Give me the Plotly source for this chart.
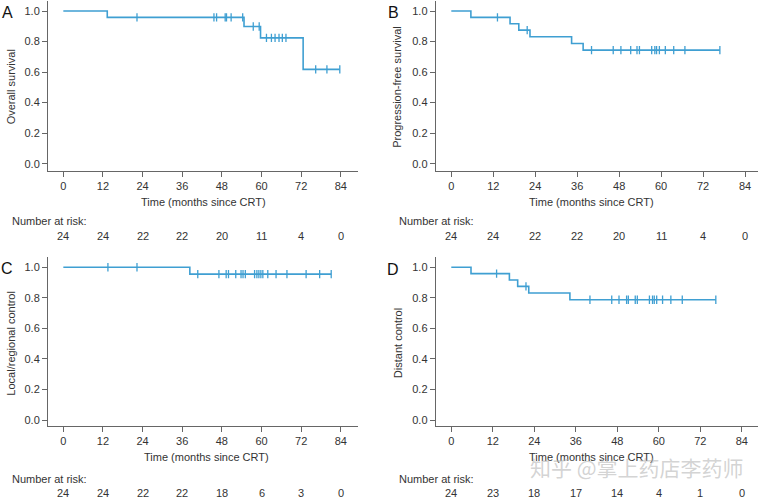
import plotly.graph_objects as go

# ---------------- data ----------------
ticks_x = [0, 12, 24, 36, 48, 60, 72, 84]

A_times = [0, 13.3, 54.7, 59.7, 72.6]
A_surv = [1.0, 0.958, 0.899, 0.824, 0.618]
A_end = 83.7
A_censor = [22.3, 45.6, 46.4, 49.0, 49.4, 50.8, 54.3, 57.5, 59.3, 61.5, 63.0,
            64.1, 65.3, 66.3, 67.4, 76.4, 79.8, 83.7]
A_risk = [24, 24, 22, 22, 20, 11, 4, 0]

B_times = [0, 5.6, 16.8, 19.3, 22.5, 34.4, 37.7]
B_surv = [1.0, 0.958, 0.917, 0.875, 0.831, 0.787, 0.744]
B_end = 76.8
B_censor = [13.2, 21.7, 40.1, 46.3, 48.5, 51.3, 53.1, 53.8, 57.3, 58.2, 58.7,
            59.5, 61.2, 63.6, 66.8, 76.8]
B_risk = [24, 24, 22, 22, 20, 11, 4, 0]

C_times = [0, 38.3]
C_surv = [1.0, 0.955]
C_end = 81.1
C_censor = [13.5, 22.3, 40.7, 47.1, 49.3, 50.0, 52.2, 53.8, 54.4, 55.1, 57.9,
            58.6, 59.2, 59.8, 60.4, 61.9, 64.4, 67.7, 73.5, 77.6, 81.1]
C_risk = [24, 24, 22, 22, 18, 6, 3, 0]

D_times = [0, 5.7, 16.8, 19.2, 22.4, 34.3]
D_surv = [1.0, 0.958, 0.917, 0.875, 0.831, 0.787]
D_end = 76.5
D_censor = [13.1, 21.6, 40.1, 46.4, 48.5, 50.7, 51.2, 53.2, 53.8, 57.3, 58.2,
            58.7, 59.4, 61.1, 63.5, 66.8, 76.5]
D_risk = [24, 23, 18, 17, 14, 4, 1, 0]

labels = ["A", "B", "C", "D"]
ytitles = ["Overall survival", "Progression-free survival",
           "Local/regional control", "Distant control"]
xtitle = "Time (months since CRT)"
risk_label = "Number at risk:"
watermark = "知乎 @掌上药店李药师"

# ---------------- layout helpers ----------------
W, H = 758, 499
LINE = "#3f9fd2"
TXT = "#333333"
AX = "#666666"
FONT = "Liberation Sans, Arial, sans-serif"


def px(x):
    return x / W


def py(y):
    return 1 - y / H


def level_at(times, surv, t):
    v = surv[0]
    for tt, s in zip(times, surv):
        if t >= tt:
            v = s
    return v


panels = [
    dict(t=A_times, s=A_surv, e=A_end, c=A_censor, r=A_risk,
         xd=(48, 358.3), xr=(-4.64, 89.3), yd=(1, 170.7), yr=(-0.0458, 1.0655),
         lab=(7, 12), yt=11, xt=203, rl=(10, 221), rn=236),
    dict(t=B_times, s=B_surv, e=B_end, c=B_censor, r=B_risk,
         xd=(435.7, 758), xr=(-4.46, 87.7), yd=(1, 170.7), yr=(-0.0458, 1.0655),
         lab=(393, 12), yt=397.5, xt=591, rl=(397, 221), rn=236),
    dict(t=C_times, s=C_surv, e=C_end, c=C_censor, r=C_risk,
         xd=(48, 358.3), xr=(-4.64, 89.3), yd=(256.7, 425.7), yr=(-0.037, 1.069),
         lab=(7, 268), yt=11, xt=206, rl=(10, 479), rn=492.5),
    dict(t=D_times, s=D_surv, e=D_end, c=D_censor, r=D_risk,
         xd=(435.7, 758), xr=(-4.51, 88.7), yd=(256.7, 425.7), yr=(-0.037, 1.069),
         lab=(393, 269), yt=397.5, xt=591, rl=(397, 479), rn=492.5),
]

fig = go.Figure()
annotations = []

for i, p in enumerate(panels):
    n = i + 1
    xa = "x" if n == 1 else f"x{n}"
    ya = "y" if n == 1 else f"y{n}"
    xs = list(p["t"]) + [p["e"]]
    ys = list(p["s"]) + [p["s"][-1]]
    fig.add_trace(go.Scatter(x=xs, y=ys, mode="lines", line_shape="hv",
                             line=dict(color=LINE, width=1.6),
                             xaxis=xa, yaxis=ya, showlegend=False,
                             hoverinfo="skip"))
    cy = [level_at(p["t"], p["s"], t) for t in p["c"]]
    fig.add_trace(go.Scatter(x=p["c"], y=cy, mode="markers",
                             marker=dict(symbol="line-ns-open", size=6,
                                         color=LINE,
                                         line=dict(color=LINE, width=1.3)),
                             xaxis=xa, yaxis=ya, showlegend=False,
                             hoverinfo="skip"))

    axkw = dict(showgrid=False, zeroline=False, showline=True, linecolor=AX,
                linewidth=1, ticks="outside", ticklen=5, tickcolor=AX,
                tickwidth=1, tickfont=dict(family=FONT, size=11, color=TXT))
    fig.layout[("xaxis" if n == 1 else f"xaxis{n}")] = dict(
        domain=[px(p["xd"][0]), min(1.0, px(p["xd"][1]))],
        range=list(p["xr"]), tickvals=ticks_x, anchor=ya, **axkw)
    fig.layout[("yaxis" if n == 1 else f"yaxis{n}")] = dict(
        domain=[py(p["yd"][1]), py(p["yd"][0])],
        range=list(p["yr"]), tickvals=[0, 0.2, 0.4, 0.6, 0.8, 1.0],
        tickformat=".1f", anchor=xa, **axkw)

    annotations.append(dict(text=labels[i], x=px(p["lab"][0]), y=py(p["lab"][1]),
                            xref="paper", yref="paper", showarrow=False,
                            xanchor="center", yanchor="middle",
                            font=dict(family=FONT, size=16, color="#111111")))
    annotations.append(dict(text=ytitles[i], x=px(p["yt"]), y=0.5,
                            xref="paper", yref=ya, showarrow=False,
                            textangle=-90, xanchor="center", yanchor="middle",
                            font=dict(family=FONT, size=11, color=TXT)))
    xt_y = p["yd"][1] + 31
    annotations.append(dict(text=xtitle, x=px(p["xt"]), y=py(xt_y),
                            xref="paper", yref="paper", showarrow=False,
                            xanchor="center", yanchor="middle",
                            font=dict(family=FONT, size=11, color=TXT)))
    annotations.append(dict(text=risk_label, x=px(p["rl"][0]), y=py(p["rl"][1]),
                            xref="paper", yref="paper", showarrow=False,
                            xanchor="left", yanchor="middle",
                            font=dict(family=FONT, size=11, color=TXT)))
    for tv, rv in zip(ticks_x, p["r"]):
        annotations.append(dict(text=str(rv), x=tv, y=py(p["rn"]),
                                xref=xa, yref="paper", showarrow=False,
                                xanchor="center", yanchor="middle",
                                font=dict(family=FONT, size=11, color=TXT)))

annotations.append(dict(text=watermark, x=px(528), y=py(467),
                        xref="paper", yref="paper", showarrow=False,
                        xanchor="left", yanchor="middle",
                        font=dict(family="Noto Sans CJK SC", size=21,
                                  color="rgba(175,175,175,0.55)")))

fig.update_layout(width=W, height=H, margin=dict(l=0, r=0, t=0, b=0),
                  paper_bgcolor="white", plot_bgcolor="white",
                  annotations=annotations, showlegend=False)

fig.write_html("out.html")
